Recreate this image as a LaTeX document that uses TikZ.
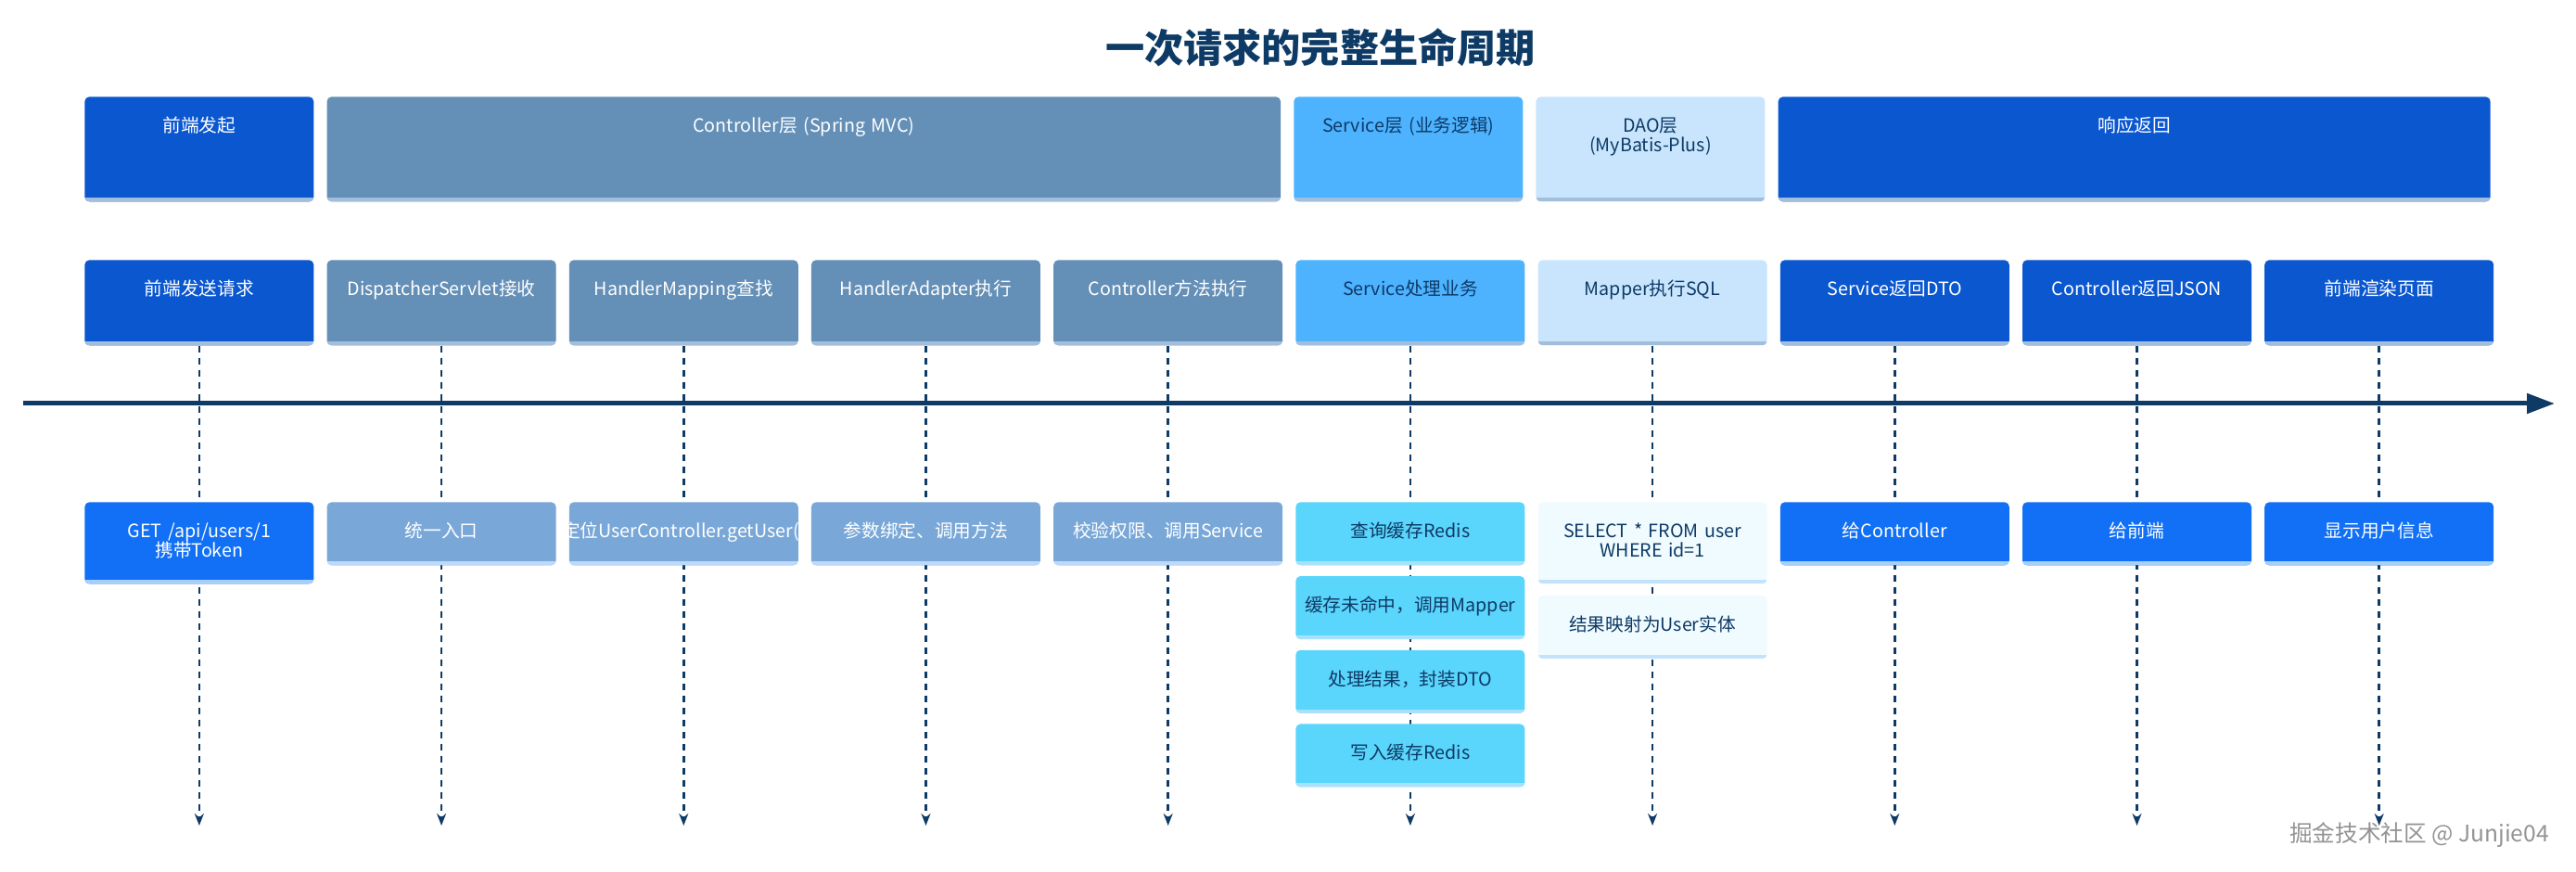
\documentclass[tikz,border=0pt]{standalone}
\usepackage{fontspec}
\setmainfont{Noto Sans CJK SC}
\usepackage{tikz}
\usetikzlibrary{positioning,arrows.meta}
\definecolor{navy}{RGB}{14,58,102}
\definecolor{frontblue}{RGB}{11,87,208}
\definecolor{ctrlsteel}{RGB}{100,143,183}
\definecolor{svcblue}{RGB}{77,179,255}
\definecolor{daolight}{RGB}{200,229,253}
\definecolor{layerstrip}{RGB}{163,190,218}
\definecolor{reqblue}{RGB}{17,112,245}
\definecolor{ctrllight}{RGB}{121,168,216}
\definecolor{svccyan}{RGB}{90,213,251}
\definecolor{daopale}{RGB}{240,251,255}
\definecolor{reqstrip}{RGB}{168,206,250}
\definecolor{ctrlstrip}{RGB}{190,218,248}
\definecolor{cyanstrip}{RGB}{170,225,250}
\definecolor{daostrip}{RGB}{196,226,250}

\begin{document}
\begin{tikzpicture}[
    node distance=0.27cm,
    boxbase/.style={rectangle, rounded corners=0.1cm, inner xsep=0pt, inner ysep=0pt, text width=4.94cm, align=center, font=\fontsize{11.2}{12}\selectfont, text height=0.77cm},
    layerbox/.style={boxbase, text depth=1.49cm},
    stagebox/.style={boxbase, text depth=1.07cm},
    detail/.style={boxbase, anchor=north, text depth=0.59cm},
    tall/.style={text depth=0.99cm},
    strip/.style={path picture={\fill[#1, sharp corners] (path picture bounding box.south west) rectangle ([yshift=0.08cm]path picture bounding box.south east);}},
    front/.style={fill=frontblue, text=white, strip=layerstrip},
    ctrl/.style={fill=ctrlsteel, text=white, strip=layerstrip},
    svc/.style={fill=svcblue, text=navy, strip=layerstrip},
    dao/.style={fill=daolight, text=navy, strip=layerstrip},
    req/.style={fill=reqblue, text=white, strip=reqstrip},
    ctrlrow/.style={fill=ctrllight, text=white, strip=ctrlstrip},
    cache/.style={fill=svccyan, text=navy, strip=cyanstrip},
    sql/.style={fill=daopale, text=navy, strip=daostrip},
    timeline/.style={-{Triangle[length=0.6cm, width=0.42cm]}, draw=navy, line width=0.1cm},
    flow/.style={-{Stealth[length=0.26cm, width=0.2cm]}, draw=navy, line width=0.05cm, dash pattern=on 0.14cm off 0.12cm}
]
\useasboundingbox (0, 0) rectangle (55.56, -18.8);

% Title
\node[font=\fontsize{24}{28}\selectfont\bfseries, text=navy] (title) at (28.48, -1.02) {一次请求的完整生命周期};

% Layers
\node[layerbox, front, anchor=north west] (l1) at (1.82, -2.08) {前端发起};
\node[layerbox, ctrl, text width=20.57cm, right=of l1] (l2) {Controller层 (Spring MVC)};
\node[layerbox, svc, right=of l2] (l3) {Service层 (业务逻辑)};
\node[layerbox, dao, right=of l3] (l4) {DAO层\\(MyBatis-Plus)};
\node[layerbox, front, text width=15.36cm, right=of l4] (l5) {响应返回};

% Stages
\node[stagebox, front, anchor=north west] (s1) at (1.82, -5.6) {前端发送请求};
\node[stagebox, ctrl, right=of s1] (s2) {DispatcherServlet接收};
\node[stagebox, ctrl, right=of s2] (s3) {HandlerMapping查找};
\node[stagebox, ctrl, right=of s3] (s4) {HandlerAdapter执行};
\node[stagebox, ctrl, right=of s4] (s5) {Controller方法执行};
\node[stagebox, svc, right=of s5] (s6) {Service处理业务};
\node[stagebox, dao, right=of s6] (s7) {Mapper执行SQL};
\node[stagebox, front, right=of s7] (s8) {Service返回DTO};
\node[stagebox, front, right=of s8] (s9) {Controller返回JSON};
\node[stagebox, front, right=of s9] (s10) {前端渲染页面};

% Time axis and lanes
\coordinate (t-start) at (0.5, -8.7);
\coordinate (t-end) at (55.1, -8.7);
\draw[timeline] (t-start) -- (t-end);

\foreach \i in {1,...,10} {
    \coordinate (e\i) at (s\i.south |- 0,-17.8);
    \draw[flow] (s\i.south) -- (e\i);
}

% Details
\coordinate (r3) at (0, -10.82);
\node[detail, req, tall] (d1) at (s1 |- r3) {GET /api/users/1\\携带Token};
\node[detail, ctrlrow] (d2) at (s2 |- r3) {统一入口};
\node[detail, ctrlrow] (d3) at (s3 |- r3) {};
\begin{scope}
    \clip (d3.south west) rectangle (d3.north east);
    \node[font=\fontsize{11.2}{12}\selectfont, text=white, anchor=base] (d3-text) at ([yshift=-0.77cm]d3.north) {定位UserController.getUser()};
\end{scope}
\node[detail, ctrlrow] (d4) at (s4 |- r3) {参数绑定、调用方法};
\node[detail, ctrlrow] (d5) at (s5 |- r3) {校验权限、调用Service};

\node[detail, cache] (c1) at (s6 |- r3) {查询缓存Redis};
\node[detail, cache, below=0.22cm of c1] (c2) {缓存未命中，调用Mapper};
\node[detail, cache, below=0.22cm of c2] (c3) {处理结果，封装DTO};
\node[detail, cache, below=0.22cm of c3] (c4) {写入缓存Redis};

\node[detail, sql, tall] (q1) at (s7 |- r3) {SELECT * FROM user\\WHERE id=1};
\node[detail, sql, below=0.24cm of q1] (q2) {结果映射为User实体};

\node[detail, req] (d8) at (s8 |- r3) {给Controller};
\node[detail, req] (d9) at (s9 |- r3) {给前端};
\node[detail, req] (d10) at (s10 |- r3) {显示用户信息};

% Watermark
\node[font=\fontsize{14}{16}\selectfont, text=gray!85] (mark) at (52.18, -18.0) {掘金技术社区 @ Junjie04};

\end{tikzpicture}
\end{document}
